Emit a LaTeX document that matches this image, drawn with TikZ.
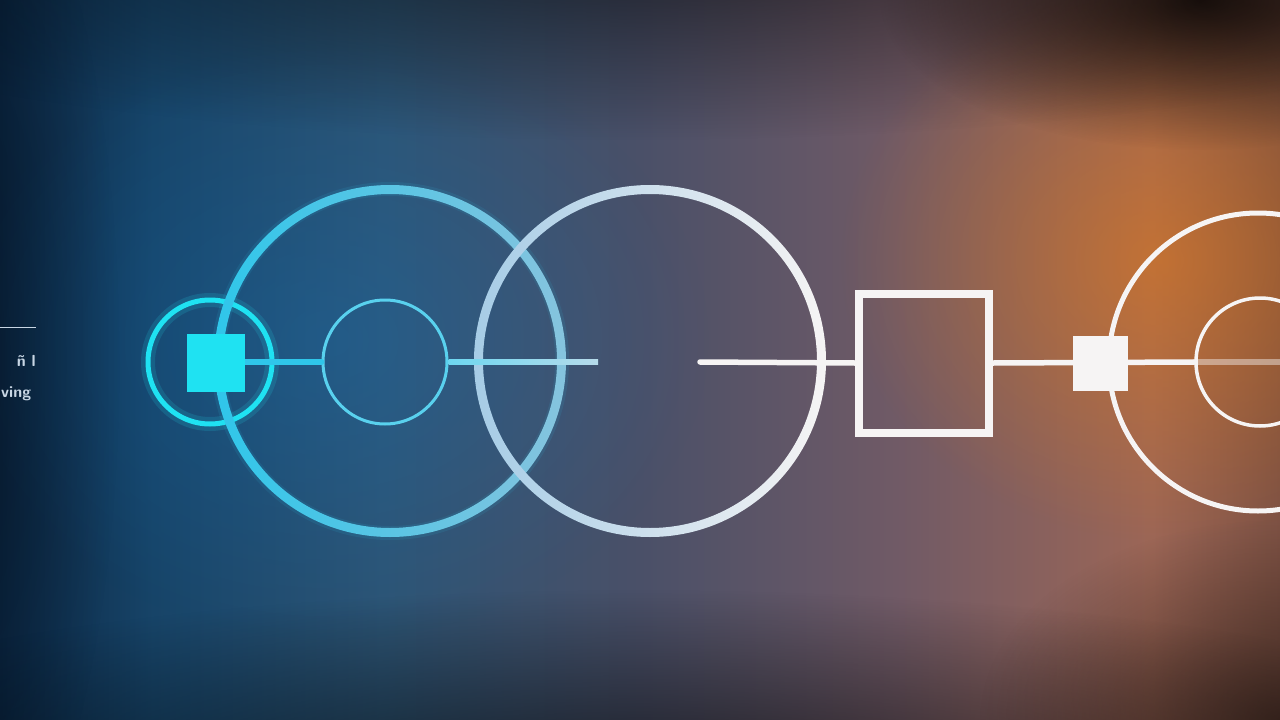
\documentclass[tikz,border=0pt]{standalone}
\usetikzlibrary{fadings}
\definecolor{bgA}{HTML}{0B2744}
\definecolor{bgB}{HTML}{174468}
\definecolor{bgC}{HTML}{2D5474}
\definecolor{bgD}{HTML}{4A5068}
\definecolor{bgE}{HTML}{705A66}
\definecolor{bgF}{HTML}{9C6656}
\definecolor{bgG}{HTML}{7E5244}
\definecolor{cyanA}{HTML}{1FE2F2}
\definecolor{cyanB}{HTML}{2FC6EA}
\definecolor{paleB}{HTML}{86C4DE}
\definecolor{paleD}{HTML}{A6CCE6}
\definecolor{snow}{HTML}{F6F4F4}
\definecolor{inkL}{HTML}{C8D6E4}
\pgfdeclarehorizontalshading{backdrop}{100bp}{color(0bp)=(bgA); color(25bp)=(bgA);
  color(31bp)=(bgB); color(40bp)=(bgC); color(50bp)=(bgD); color(60bp)=(bgE);
  color(70bp)=(bgF); color(75bp)=(bgG); color(100bp)=(bgG)}
\tikzfading[name=softglow, inner color=transparent!0, outer color=transparent!100]
\begin{document}
\begin{tikzpicture}[
        x=1pt, y=-1pt,
        ring/.style={draw, circle, inner sep=0pt},
        blank/.style={circle, inner sep=0pt, draw=none},
        block/.style={rectangle, inner sep=0pt},
        link/.style={line width=5.5pt, line cap=round},
        glow/.style={line width=14pt, opacity=.1},
        label/.style={text=inkL, font=\sffamily\bfseries\fontsize{16}{16}\selectfont, inner sep=0pt},
    ]
    \useasboundingbox (0,0) rectangle (1280,720);
    \clip (0,0) rectangle (1280,720);
    % backdrop
    \shade[shading=backdrop] (0,0) rectangle (1280,720);
    \fill[cyan!60!blue, opacity=.25, path fading=softglow] (330,340) ellipse (380 and 300);
    \fill[orange!80!brown, opacity=.45, path fading=softglow] (1160,260) ellipse (320 and 280);
    \fill[black, opacity=.8, path fading=softglow] (1200,0) ellipse (320 and 150);
    \fill[black, opacity=.6, path fading=softglow] (640,-60) ellipse (1000 and 200);
    \fill[black, opacity=.7, path fading=softglow] (640,800) ellipse (1000 and 210);
    \fill[black, opacity=.5, path fading=softglow] (1280,720) ellipse (300 and 200);
    \fill[black, opacity=.45, path fading=softglow] (-80,360) ellipse (200 and 600);

    % left fragment
    \draw[inkL, line width=1pt] (0,327) coordinate (rule0) -- (36,327) coordinate (rule1);
    \node[label, anchor=base east] (frag1) at (36,366) {ñ l};
    \node[label, anchor=base west] (frag2) at (1,397) {ving};

    % nodes
    \node[blank, minimum size=344pt] (big1) at (390,361) {};
    \node[blank, minimum size=344pt] (big2) at (650,361) {};
    \node[ring, draw=cyanA, line width=5pt, minimum size=124pt] (hub) at (210,362) {};
    \node[ring, draw=cyanB!80!white, line width=3pt, minimum size=124pt] (core) at (385,362) {};
    \node[block, draw=snow, line width=8pt, minimum width=130pt, minimum height=139pt] (box) at (924,363) {};
    \node[blank, minimum size=300pt] (big3) at (1258,362) {};
    \node[ring, draw=snow, line width=3.5pt, minimum size=128pt] (rcore) at (1260,362) {};
    \coordinate (gapL) at (598,362);
    \coordinate (gapR) at (700,362);
    \coordinate (rim) at (1280,362);

    % glows
    \draw[cyanA, glow, opacity=.15] (hub.center) circle[radius=62];
    \draw[cyanB, glow] (big1.center) circle[radius=172];

    % rings
    \shade[even odd rule, left color=cyanB, right color=paleB]
        (big1.center) circle[radius=176] circle[radius=167];
    \shade[even odd rule, left color=paleD, right color=snow]
        (big2.center) circle[radius=176] circle[radius=167];
    \draw[snow, line width=5pt] (big3.center) circle[radius=149];

    % links
    \draw[link, cyanB] (hub.center) -- (core.west);
    \shade[left color=cyanB!70!white, right color=paleB!60!white]
        ([yshift=-2.7]core.east) rectangle ([yshift=2.7]gapL);
    \draw[link, snow] (gapR) -- (box.west);
    \draw[link, snow] (box.east) -- (rcore.west);
    \draw[link, snow, opacity=.45] (rcore.west) -- (rim);

    % squares
    \node[block, fill=cyanA, minimum size=58pt] (hubsq) at (216,363) {};
    \node[block, fill=snow, minimum size=55pt] (tail) at (1100,363) {};
\end{tikzpicture}
\end{document}
